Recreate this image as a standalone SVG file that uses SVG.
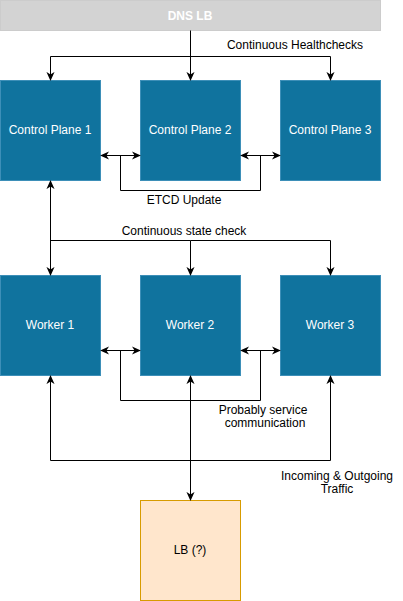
<svg xmlns="http://www.w3.org/2000/svg" width="403" height="601" viewBox="0 0 403 601">
<style>
.node{fill:#10739E;stroke:#3d8fb8;stroke-width:1}
.nt{font-family:"Liberation Sans",Arial,sans-serif;font-size:12px;fill:#ffffff;text-anchor:middle;dominant-baseline:central}
.lt{font-family:"Liberation Sans",Arial,sans-serif;font-size:12px;fill:#000000;text-anchor:middle;dominant-baseline:central}
.edge{fill:none;stroke:#000000;stroke-width:1}
</style>
<defs>
<marker id="arr" viewBox="0 0 10 10" refX="9" refY="5" markerWidth="9" markerHeight="9" markerUnits="userSpaceOnUse" orient="auto-start-reverse">
<path d="M0,0.5 L10,5 L0,9.5 L3,5 z" fill="#000"/>
</marker>
</defs>
<g id="dns-lb">
<rect x="0.5" y="0.5" width="380" height="30" fill="#d3d3d3" stroke="#cccccc"/>
<text class="nt" x="190" y="16" font-weight="bold">DNS LB</text>
</g>
<g id="cp1"><rect class="node" x="0.5" y="80.5" width="100" height="100"/><text class="nt" x="50" y="130">Control Plane 1</text></g>
<g id="cp2"><rect class="node" x="140.5" y="80.5" width="100" height="100"/><text class="nt" x="190" y="130">Control Plane 2</text></g>
<g id="cp3"><rect class="node" x="280.5" y="80.5" width="100" height="100"/><text class="nt" x="330" y="130">Control Plane 3</text></g>
<g id="w1"><rect class="node" x="0.5" y="275.5" width="100" height="100"/><text class="nt" x="50" y="325">Worker 1</text></g>
<g id="w2"><rect class="node" x="140.5" y="275.5" width="100" height="100"/><text class="nt" x="190" y="325">Worker 2</text></g>
<g id="w3"><rect class="node" x="280.5" y="275.5" width="100" height="100"/><text class="nt" x="330" y="325">Worker 3</text></g>
<g id="lb">
<rect x="140.5" y="500.5" width="100" height="100" fill="#ffe6cc" stroke="#d79b00"/>
<text class="lt" x="190" y="550">LB (?)</text>
</g>
<g id="connectors">
<path class="edge" d="M190.5,30.5 V80" marker-end="url(#arr)"/>
<path class="edge" d="M190.5,56.5 H50.5 V80" marker-end="url(#arr)"/>
<path class="edge" d="M190.5,56.5 H330.5 V80" marker-end="url(#arr)"/>
<text class="lt" x="295" y="45">Continuous Healthchecks</text>
<path class="edge" d="M101,155.5 H140" marker-start="url(#arr)" marker-end="url(#arr)"/>
<path class="edge" d="M241,155.5 H280" marker-start="url(#arr)" marker-end="url(#arr)"/>
<path class="edge" d="M120.5,155.5 V190.5 H260.5 V155.5"/>
<text class="lt" x="184" y="200">ETCD Update</text>
<path class="edge" d="M50.5,181 V275" marker-start="url(#arr)" marker-end="url(#arr)"/>
<path class="edge" d="M50.5,240.5 H190.5 V275" marker-end="url(#arr)"/>
<path class="edge" d="M190.5,240.5 H330.5 V275" marker-end="url(#arr)"/>
<text class="lt" x="184" y="231">Continuous state check</text>
<path class="edge" d="M101,350.5 H140" marker-start="url(#arr)" marker-end="url(#arr)"/>
<path class="edge" d="M241,350.5 H280" marker-start="url(#arr)" marker-end="url(#arr)"/>
<path class="edge" d="M120.5,350.5 V400.5 H260.5 V350.5"/>
<text class="lt" x="263" y="410">Probably service</text>
<text class="lt" x="265" y="423">communication</text>
<path class="edge" d="M190.5,376 V500" marker-start="url(#arr)" marker-end="url(#arr)"/>
<path class="edge" d="M50.5,376 V460.5 H330.5 V376" marker-start="url(#arr)" marker-end="url(#arr)"/>
<text class="lt" x="337" y="476">Incoming &amp; Outgoing</text>
<text class="lt" x="337" y="489">Traffic</text>
</g>
</svg>
